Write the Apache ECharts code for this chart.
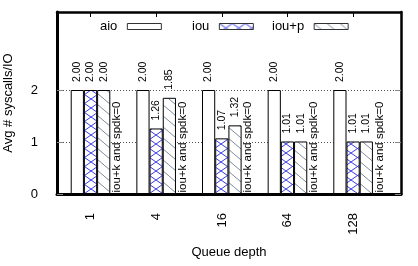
<!DOCTYPE html>
<html>
<head>
<meta charset="utf-8">
<script src="https://cdn.jsdelivr.net/npm/echarts@6/dist/echarts.min.js"></script>
<style>
  html, body { margin: 0; padding: 0; background: #fff; }
  #chart { width: 418px; height: 266px; }
</style>
</head>
<body>
<div id="chart"></div>
<script>
// Average syscalls per I/O by queue depth
const queueDepths = ['1', '4', '16', '64', '128'];
const aioCalls  = [2.00, 2.00, 2.00, 2.00, 2.00];
const iouCalls  = [2.00, 1.26, 1.07, 1.01, 1.01];
const iouPCalls = [2.00, 1.85, 1.32, 1.01, 1.01];
const iouKCalls = [0, 0, 0, 0, 0];
const yTickValues = [0, 1, 2];

const FONT = '"Liberation Sans", Arial, Helvetica, sans-serif';
const X_MIN = -0.611, X_MAX = 4.629;   // axis range around the clusters
const TICK_SHIFT = -0.0975;            // cluster tick sits slightly left of the cluster centre
const tickPositions = queueDepths.map((_, i) => i + TICK_SHIFT);

// Repeating hatch tile used as a bar fill
function hatch(w, h, color, cross) {
  const c = document.createElement('canvas');
  c.width = w; c.height = h;
  const g = c.getContext('2d');
  g.fillStyle = '#fff';
  g.fillRect(0, 0, w, h);
  g.strokeStyle = color;
  g.lineWidth = 1;
  const seg = (x0, y0, x1, y1) => { g.beginPath(); g.moveTo(x0, y0); g.lineTo(x1, y1); g.stroke(); };
  for (const dx of [-w, 0, w]) seg(dx, 0, dx + w, h);
  if (cross) for (const dx of [-w, 0, w]) seg(dx + w, 0, dx, h);
  return { image: c, repeat: 'repeat' };
}

const BAR_W = 13.2;
const valueLabel = {
  show: true, position: 'top', distance: 8, rotate: 90,
  align: 'left', verticalAlign: 'middle',
  fontSize: 10.5, fontFamily: FONT, color: '#000',
  formatter: p => p.value[1].toFixed(2)
};

function barSeries(name, values, fill, label, border) {
  return {
    type: 'bar', name,
    barWidth: BAR_W, barGap: '0%',
    data: values.map((v, i) => [i, v]),
    itemStyle: { color: fill, borderColor: '#000', borderWidth: border },
    label,
    emphasis: { disabled: true },
    z: 2
  };
}

const legendCommon = {
  top: 20, padding: 0, align: 'right', icon: 'rect',
  itemWidth: 34, itemHeight: 6, selectedMode: false,
  itemStyle: { borderWidth: 1, borderColor: '#333' },
  textStyle: { fontSize: 13, fontFamily: FONT, color: '#000', padding: [0, 5, 0, 0] }
};

const option = {
  animation: false,
  grid: { left: 57, right: 17, top: 12, bottom: 72, outerBoundsMode: 'none', containLabel: false },
  legend: [
    Object.assign({ data: ['aio'], left: 100 }, legendCommon),
    Object.assign({ data: ['iou'], left: 192 }, legendCommon),
    Object.assign({ data: ['iou+p'], left: 272 }, legendCommon)
  ],
  xAxis: [
    {
      type: 'value', position: 'bottom', min: X_MIN, max: X_MAX,
      axisLine: { show: true, onZero: false, lineStyle: { color: '#000', width: 3 } },
      axisTick: { show: false },
      axisLabel: {
        customValues: tickPositions, rotate: 90, margin: 19,
        fontSize: 13, fontFamily: FONT, color: '#000',
        formatter: v => queueDepths[Math.round(v - TICK_SHIFT)]
      },
      splitLine: { show: false },
      name: 'Queue depth', nameLocation: 'middle', nameGap: 52,
      nameTextStyle: { fontSize: 13, fontFamily: FONT, color: '#000' }
    },
    {
      type: 'value', position: 'top', min: X_MIN, max: X_MAX,
      axisLine: { show: true, onZero: false, lineStyle: { color: '#000', width: 2.5 } },
      axisTick: { show: true, inside: true, length: 5, customValues: tickPositions, lineStyle: { color: '#000' } },
      axisLabel: { show: false },
      splitLine: { show: false }
    }
  ],
  yAxis: [
    {
      type: 'value', position: 'left', min: 0, max: 3.5, interval: 1,
      axisLine: { show: true, onZero: false, lineStyle: { color: '#000', width: 3 } },
      axisTick: { show: true, inside: true, length: 6, customValues: yTickValues, lineStyle: { color: '#888' } },
      axisLabel: { customValues: yTickValues, margin: 19, fontSize: 13, fontFamily: FONT, color: '#000' },
      splitLine: { show: true, lineStyle: { color: '#555', width: 1, type: [1, 2] } },
      name: 'Avg # syscalls/IO', nameLocation: 'middle', nameGap: 42,
      nameTextStyle: { fontSize: 13, fontFamily: FONT, color: '#000' }
    },
    {
      type: 'value', position: 'right', min: 0, max: 3.5, interval: 1,
      axisLine: { show: true, onZero: false, lineStyle: { color: '#000', width: 2.5 } },
      axisTick: { show: true, inside: true, length: 6, customValues: yTickValues, lineStyle: { color: '#888' } },
      axisLabel: { show: false },
      splitLine: { show: false }
    }
  ],
  series: [
    barSeries('aio', aioCalls, '#fff', valueLabel, 1),
    barSeries('iou', iouCalls, hatch(13, 9, '#3a3ae6', true), valueLabel, 1),
    barSeries('iou+p', iouPCalls, hatch(13, 11, '#7b8c9c', false), valueLabel, 1),
    barSeries('iou+k and spdk=0', iouKCalls, 'rgba(0,0,0,0)', {
      show: true, position: 'top', distance: 4, rotate: 90,
      align: 'left', verticalAlign: 'middle', offset: [-2.5, 0],
      fontSize: 11.5, fontFamily: FONT, color: '#000',
      formatter: p => p.seriesName
    }, 0)
  ]
};

const chart = echarts.init(document.getElementById('chart'), null, { renderer: 'canvas' });
chart.setOption(option);
</script>
</body>
</html>
